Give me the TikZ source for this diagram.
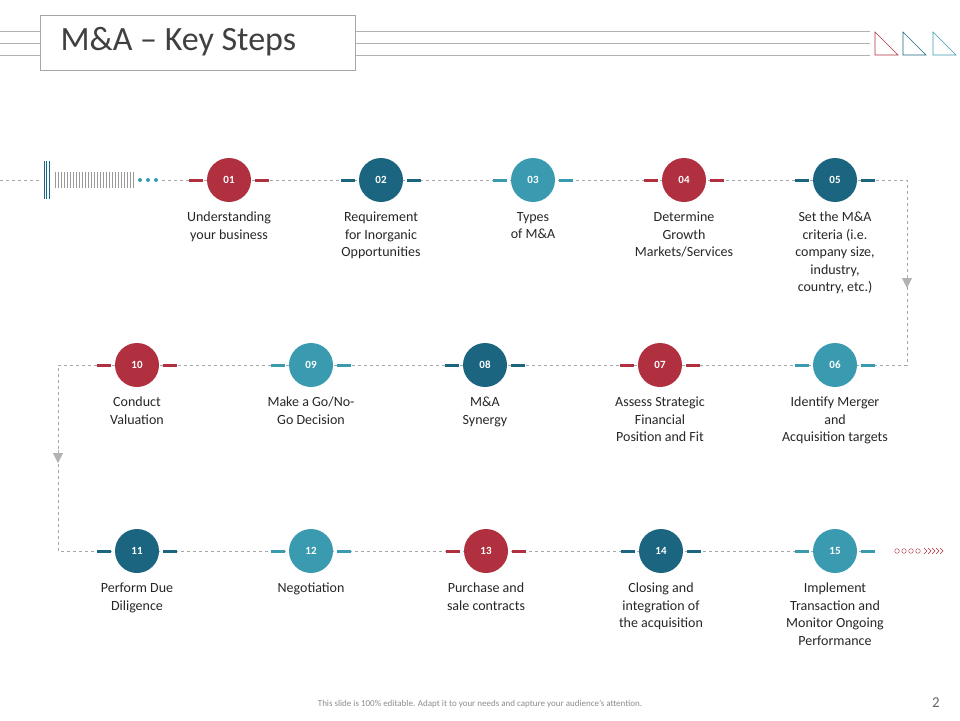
\documentclass[tikz,border=0pt]{standalone}
\usepackage{fontspec}
\setmainfont{Carlito}
\usetikzlibrary{arrows.meta}
\definecolor{cred}{HTML}{B0303F}
\definecolor{cdark}{HTML}{1C6580}
\definecolor{clight}{HTML}{3A9BB0}
\begin{document}
\begin{tikzpicture}[x=1pt,y=-1pt,
 stepcircle/.style={circle,fill=#1,minimum size=44pt,inner sep=0pt,text=white,font=\fontsize{11}{11}\selectfont\bfseries},
 label/.style={align=center,anchor=north,font=\fontsize{14}{17.5}\selectfont,text=black!85,inner sep=0pt},
 path/.style={draw=black!35,dashed,thin}
 ]
\useasboundingbox (0,0) rectangle (960,720);
% header
\foreach \y in {31,43,55}
 \draw[black!30] (0,\y) -- (870,\y);
\node[draw=black!35,fill=white,minimum width=315pt,minimum height=55pt,anchor=north west,inner sep=0pt] (title) at (40,15) {};
\node[anchor=west,font=\fontsize{34}{34}\selectfont,text=black!75] at (57,42) {M\&A -- Key Steps};
\foreach \x/\c in {875/cred,903/cdark,933/clight}
 \draw[\c,semithick] (\x,32) -- (\x,55) -- (\x+23,55) -- cycle;
% connector path
\draw[path] (0,180) -- (907,180) -- (907,365) -- (58,365) -- (58,551) -- (870,551);
\draw[black!30,-{Triangle[length=10pt,width=10pt]}] (907,275) -- (907,288);
\draw[black!30,-{Triangle[length=10pt,width=10pt]}] (58,450) -- (58,463);
% left ornament
\fill[white] (40,160) rectangle (160,200);
\foreach \x in {44,46.5,49}
 \draw[cdark,thin] (\x,161) -- (\x,199);
\foreach \i in {0,...,26}
 \draw[black!40,very thin] (55+\i*3,172) -- (55+\i*3,188);
\foreach \x in {140,148,156}
 \fill[clight] (\x,180) circle (2);
% right ornament
\foreach \i in {0,...,3}
 \draw[cred,thin] (897+\i*7,551) circle (2.3);
\foreach \i in {0,...,4}
 \draw[cred,thin] (924+\i*4,548) -- (927+\i*4,551) -- (924+\i*4,554);
% steps
\foreach \n/\x/\y/\c/\t in {
 01/229/180/cred/{Understanding\\your business},
 02/381/180/cdark/{Requirement\\for Inorganic\\Opportunities},
 03/533/180/clight/{Types\\of M\&A},
 04/684/180/cred/{Determine\\Growth\\Markets/Services},
 05/835/180/cdark/{Set the M\&A\\criteria (i.e.\\company size,\\industry,\\country, etc.)},
 06/835/365/clight/{Identify Merger\\and\\Acquisition targets},
 07/660/365/cred/{Assess Strategic\\Financial\\Position and Fit},
 08/485/365/cdark/{M\&A\\Synergy},
 09/311/365/clight/{Make a Go/No-\\Go Decision},
 10/137/365/cred/{Conduct\\Valuation},
 11/137/551/cdark/{Perform Due\\Diligence},
 12/311/551/clight/{Negotiation},
 13/486/551/cred/{Purchase and\\sale contracts},
 14/661/551/cdark/{Closing and\\integration of\\the acquisition},
 15/835/551/clight/{Implement\\Transaction and\\Monitor Ongoing\\Performance}}
{
 \draw[\c,line width=3pt] (\x-40,\y) -- (\x-26,\y) (\x+26,\y) -- (\x+40,\y);
 \node[stepcircle=\c] (s\n) at (\x,\y) {\n};
 \node[label] (l\n) at (\x,\y+32) {\t};
}
% footer
\node[font=\fontsize{9}{9}\selectfont,text=black!45] (foot) at (480,704) {This slide is 100\% editable. Adapt it to your needs and capture your audience's attention.};
\node[font=\fontsize{15}{15}\selectfont,text=black!60] (page) at (936,703) {2};
\end{tikzpicture}
\end{document}
